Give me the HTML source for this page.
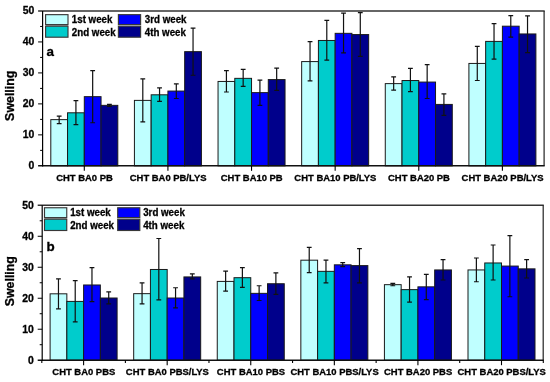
<!DOCTYPE html>
<html><head><meta charset="utf-8"><title>Swelling</title>
<style>html,body{margin:0;padding:0;background:#fff}svg{display:block}text{stroke:#000;stroke-width:.3px}</style></head>
<body>
<svg width="550" height="382" viewBox="0 0 550 382" font-family="'Liberation Sans', Arial, sans-serif" font-weight="bold" fill="#000">
<rect width="550" height="382" fill="#fff"/>
<rect x="50.80" y="119.63" width="16.75" height="46.22" fill="#BFFFFF" stroke="#1a1a1a" stroke-width="1"/>
<rect x="67.55" y="112.80" width="16.75" height="53.05" fill="#00CCCC" stroke="#1a1a1a" stroke-width="1"/>
<rect x="84.30" y="96.66" width="16.75" height="69.19" fill="#0000FF" stroke="#1a1a1a" stroke-width="1"/>
<rect x="101.05" y="105.35" width="16.75" height="60.50" fill="#00008B" stroke="#1a1a1a" stroke-width="1"/>
<path d="M59.17 116.22V123.67M56.77 116.22h4.8M56.77 123.67h4.8" stroke="#111" stroke-width="1.2" fill="none"/>
<path d="M75.92 100.70V124.60M73.52 100.70h4.8M73.52 124.60h4.8" stroke="#111" stroke-width="1.2" fill="none"/>
<path d="M92.67 70.58V122.74M90.27 70.58h4.8M90.27 122.74h4.8" stroke="#111" stroke-width="1.2" fill="none"/>
<path d="M109.42 104.42V106.29M107.02 104.42h4.8M107.02 106.29h4.8" stroke="#111" stroke-width="1.2" fill="none"/>
<rect x="134.42" y="100.39" width="16.75" height="65.46" fill="#BFFFFF" stroke="#1a1a1a" stroke-width="1"/>
<rect x="151.17" y="94.80" width="16.75" height="71.05" fill="#00CCCC" stroke="#1a1a1a" stroke-width="1"/>
<rect x="167.92" y="91.07" width="16.75" height="74.78" fill="#0000FF" stroke="#1a1a1a" stroke-width="1"/>
<rect x="184.67" y="51.65" width="16.75" height="114.20" fill="#00008B" stroke="#1a1a1a" stroke-width="1"/>
<path d="M142.80 78.97V121.81M140.40 78.97h4.8M140.40 121.81h4.8" stroke="#111" stroke-width="1.2" fill="none"/>
<path d="M159.55 87.97V101.32M157.15 87.97h4.8M157.15 101.32h4.8" stroke="#111" stroke-width="1.2" fill="none"/>
<path d="M176.30 83.93V98.52M173.90 83.93h4.8M173.90 98.52h4.8" stroke="#111" stroke-width="1.2" fill="none"/>
<path d="M193.05 28.05V75.24M190.65 28.05h4.8M190.65 75.24h4.8" stroke="#111" stroke-width="1.2" fill="none"/>
<rect x="218.04" y="81.45" width="16.75" height="84.40" fill="#BFFFFF" stroke="#1a1a1a" stroke-width="1"/>
<rect x="234.79" y="78.35" width="16.75" height="87.50" fill="#00CCCC" stroke="#1a1a1a" stroke-width="1"/>
<rect x="251.54" y="92.63" width="16.75" height="73.22" fill="#0000FF" stroke="#1a1a1a" stroke-width="1"/>
<rect x="268.29" y="79.59" width="16.75" height="86.26" fill="#00008B" stroke="#1a1a1a" stroke-width="1"/>
<path d="M226.42 70.58V92.00M224.02 70.58h4.8M224.02 92.00h4.8" stroke="#111" stroke-width="1.2" fill="none"/>
<path d="M243.17 69.34V86.42M240.77 69.34h4.8M240.77 86.42h4.8" stroke="#111" stroke-width="1.2" fill="none"/>
<path d="M259.92 80.21V105.35M257.52 80.21h4.8M257.52 105.35h4.8" stroke="#111" stroke-width="1.2" fill="none"/>
<path d="M276.67 68.10V90.45M274.27 68.10h4.8M274.27 90.45h4.8" stroke="#111" stroke-width="1.2" fill="none"/>
<rect x="301.66" y="61.58" width="16.75" height="104.27" fill="#BFFFFF" stroke="#1a1a1a" stroke-width="1"/>
<rect x="318.41" y="40.47" width="16.75" height="125.38" fill="#00CCCC" stroke="#1a1a1a" stroke-width="1"/>
<rect x="335.16" y="33.33" width="16.75" height="132.52" fill="#0000FF" stroke="#1a1a1a" stroke-width="1"/>
<rect x="351.91" y="34.57" width="16.75" height="131.28" fill="#00008B" stroke="#1a1a1a" stroke-width="1"/>
<path d="M310.04 41.71V80.83M307.64 41.71h4.8M307.64 80.83h4.8" stroke="#111" stroke-width="1.2" fill="none"/>
<path d="M326.79 20.29V60.03M324.39 20.29h4.8M324.39 60.03h4.8" stroke="#111" stroke-width="1.2" fill="none"/>
<path d="M343.54 13.15V52.89M341.14 13.15h4.8M341.14 52.89h4.8" stroke="#111" stroke-width="1.2" fill="none"/>
<path d="M360.29 12.53V56.30M357.89 12.53h4.8M357.89 56.30h4.8" stroke="#111" stroke-width="1.2" fill="none"/>
<rect x="385.28" y="83.62" width="16.75" height="82.23" fill="#BFFFFF" stroke="#1a1a1a" stroke-width="1"/>
<rect x="402.03" y="80.52" width="16.75" height="85.33" fill="#00CCCC" stroke="#1a1a1a" stroke-width="1"/>
<rect x="418.78" y="82.07" width="16.75" height="83.78" fill="#0000FF" stroke="#1a1a1a" stroke-width="1"/>
<rect x="435.53" y="104.42" width="16.75" height="61.43" fill="#00008B" stroke="#1a1a1a" stroke-width="1"/>
<path d="M393.66 76.79V90.14M391.26 76.79h4.8M391.26 90.14h4.8" stroke="#111" stroke-width="1.2" fill="none"/>
<path d="M410.41 68.41V91.69M408.01 68.41h4.8M408.01 91.69h4.8" stroke="#111" stroke-width="1.2" fill="none"/>
<path d="M427.16 64.69V98.52M424.76 64.69h4.8M424.76 98.52h4.8" stroke="#111" stroke-width="1.2" fill="none"/>
<path d="M443.91 93.87V115.29M441.51 93.87h4.8M441.51 115.29h4.8" stroke="#111" stroke-width="1.2" fill="none"/>
<rect x="468.90" y="63.44" width="16.75" height="102.41" fill="#BFFFFF" stroke="#1a1a1a" stroke-width="1"/>
<rect x="485.65" y="41.40" width="16.75" height="124.45" fill="#00CCCC" stroke="#1a1a1a" stroke-width="1"/>
<rect x="502.40" y="26.19" width="16.75" height="139.66" fill="#0000FF" stroke="#1a1a1a" stroke-width="1"/>
<rect x="519.15" y="33.95" width="16.75" height="131.90" fill="#00008B" stroke="#1a1a1a" stroke-width="1"/>
<path d="M477.28 46.37V80.52M474.88 46.37h4.8M474.88 80.52h4.8" stroke="#111" stroke-width="1.2" fill="none"/>
<path d="M494.03 23.71V59.10M491.63 23.71h4.8M491.63 59.10h4.8" stroke="#111" stroke-width="1.2" fill="none"/>
<path d="M510.78 15.64V37.06M508.38 15.64h4.8M508.38 37.06h4.8" stroke="#111" stroke-width="1.2" fill="none"/>
<path d="M527.53 15.95V52.58M525.13 15.95h4.8M525.13 52.58h4.8" stroke="#111" stroke-width="1.2" fill="none"/>
<path d="M38.10 10.95H544.70" stroke="#333" stroke-width="1.5" fill="none"/>
<path d="M544.10 10.95V165.85" stroke="#222" stroke-width="1.2" fill="none"/>
<path d="M38.10 165.85H544.70" stroke="#111" stroke-width="1.5" fill="none"/>
<path d="M42.60 10.95V166.55" stroke="#000" stroke-width="1.2" fill="none"/>
<text x="34.30" y="169.15" font-size="10.4" text-anchor="end">0</text>
<path d="M40.10 150.36H42.60" stroke="#000" stroke-width="1"/>
<path d="M38.10 134.87H42.60" stroke="#000" stroke-width="1"/>
<text x="34.30" y="138.17" font-size="10.4" text-anchor="end">10</text>
<path d="M40.10 119.38H42.60" stroke="#000" stroke-width="1"/>
<path d="M38.10 103.89H42.60" stroke="#000" stroke-width="1"/>
<text x="34.30" y="107.19" font-size="10.4" text-anchor="end">20</text>
<path d="M40.10 88.40H42.60" stroke="#000" stroke-width="1"/>
<path d="M38.10 72.91H42.60" stroke="#000" stroke-width="1"/>
<text x="34.30" y="76.21" font-size="10.4" text-anchor="end">30</text>
<path d="M40.10 57.42H42.60" stroke="#000" stroke-width="1"/>
<path d="M38.10 41.93H42.60" stroke="#000" stroke-width="1"/>
<text x="34.30" y="45.23" font-size="10.4" text-anchor="end">40</text>
<path d="M40.10 26.44H42.60" stroke="#000" stroke-width="1"/>
<text x="34.30" y="14.25" font-size="10.4" text-anchor="end">50</text>
<path d="M84.30 165.85V170.85" stroke="#000" stroke-width="1.1"/>
<text transform="translate(84.50 181.10) scale(1 1)" font-size="9.45" text-anchor="middle">CHT BA0 PB</text>
<path d="M167.92 165.85V170.85" stroke="#000" stroke-width="1.1"/>
<text transform="translate(168.12 181.10) scale(1 1)" font-size="9.45" text-anchor="middle">CHT BA0 PB/LYS</text>
<path d="M251.54 165.85V170.85" stroke="#000" stroke-width="1.1"/>
<text transform="translate(251.74 181.10) scale(1 1)" font-size="9.45" text-anchor="middle">CHT BA10 PB</text>
<path d="M335.16 165.85V170.85" stroke="#000" stroke-width="1.1"/>
<text transform="translate(335.36 181.10) scale(1 1)" font-size="9.45" text-anchor="middle">CHT BA10 PB/LYS</text>
<path d="M418.78 165.85V170.85" stroke="#000" stroke-width="1.1"/>
<text transform="translate(418.98 181.10) scale(1 1)" font-size="9.45" text-anchor="middle">CHT BA20 PB</text>
<path d="M502.40 165.85V170.85" stroke="#000" stroke-width="1.1"/>
<text transform="translate(502.60 181.10) scale(1 1)" font-size="9.45" text-anchor="middle">CHT BA20 PB/LYS</text>
<text transform="translate(14.2 95.75) rotate(-90)" font-size="12.4" text-anchor="middle">Swelling</text>
<text x="46.5" y="56.15" font-size="13.4">a</text>
<path d="M45.60 25.40h22.40" stroke="#8a8a8a" stroke-width="0.8"/>
<rect x="45.60" y="14.65" width="22.40" height="9.95" fill="#BFFFFF" stroke="#383838" stroke-width="1.15"/>
<text transform="translate(71.80 23.15) scale(0.975 1)" font-size="10.0" text-anchor="start">1st week</text>
<rect x="45.60" y="26.20" width="22.40" height="11.00" fill="#00CCCC" stroke="#383838" stroke-width="1.15"/>
<text transform="translate(71.80 35.65) scale(0.975 1)" font-size="10.0" text-anchor="start">2nd week</text>
<rect x="118.40" y="14.65" width="22.20" height="9.95" fill="#0000FF" stroke="#383838" stroke-width="1.15"/>
<text transform="translate(144.80 23.15) scale(0.975 1)" font-size="10.0" text-anchor="start">3rd week</text>
<rect x="118.40" y="26.20" width="22.20" height="11.00" fill="#00008B" stroke="#383838" stroke-width="1.15"/>
<text transform="translate(144.80 35.65) scale(0.975 1)" font-size="10.0" text-anchor="start">4th week</text>
<rect x="50.10" y="293.81" width="16.75" height="66.38" fill="#BFFFFF" stroke="#1a1a1a" stroke-width="1"/>
<rect x="66.85" y="301.41" width="16.75" height="58.79" fill="#00CCCC" stroke="#1a1a1a" stroke-width="1"/>
<rect x="83.60" y="284.98" width="16.75" height="75.22" fill="#0000FF" stroke="#1a1a1a" stroke-width="1"/>
<rect x="100.35" y="298.00" width="16.75" height="62.20" fill="#00008B" stroke="#1a1a1a" stroke-width="1"/>
<path d="M58.47 278.78V308.85M56.07 278.78h4.8M56.07 308.85h4.8" stroke="#111" stroke-width="1.2" fill="none"/>
<path d="M75.22 280.64V321.87M72.82 280.64h4.8M72.82 321.87h4.8" stroke="#111" stroke-width="1.2" fill="none"/>
<path d="M91.97 267.62V301.72M89.57 267.62h4.8M89.57 301.72h4.8" stroke="#111" stroke-width="1.2" fill="none"/>
<path d="M108.72 291.80V303.89M106.32 291.80h4.8M106.32 303.89h4.8" stroke="#111" stroke-width="1.2" fill="none"/>
<rect x="133.68" y="293.66" width="16.75" height="66.54" fill="#BFFFFF" stroke="#1a1a1a" stroke-width="1"/>
<rect x="150.43" y="269.48" width="16.75" height="90.72" fill="#00CCCC" stroke="#1a1a1a" stroke-width="1"/>
<rect x="167.18" y="298.00" width="16.75" height="62.20" fill="#0000FF" stroke="#1a1a1a" stroke-width="1"/>
<rect x="183.93" y="276.92" width="16.75" height="83.28" fill="#00008B" stroke="#1a1a1a" stroke-width="1"/>
<path d="M142.06 282.81V303.89M139.66 282.81h4.8M139.66 303.89h4.8" stroke="#111" stroke-width="1.2" fill="none"/>
<path d="M158.81 238.48V299.86M156.41 238.48h4.8M156.41 299.86h4.8" stroke="#111" stroke-width="1.2" fill="none"/>
<path d="M175.56 287.77V307.92M173.16 287.77h4.8M173.16 307.92h4.8" stroke="#111" stroke-width="1.2" fill="none"/>
<path d="M192.31 273.82V278.78M189.91 273.82h4.8M189.91 278.78h4.8" stroke="#111" stroke-width="1.2" fill="none"/>
<rect x="217.26" y="281.41" width="16.75" height="78.79" fill="#BFFFFF" stroke="#1a1a1a" stroke-width="1"/>
<rect x="234.01" y="277.69" width="16.75" height="82.50" fill="#00CCCC" stroke="#1a1a1a" stroke-width="1"/>
<rect x="250.76" y="293.35" width="16.75" height="66.85" fill="#0000FF" stroke="#1a1a1a" stroke-width="1"/>
<rect x="267.51" y="283.74" width="16.75" height="76.46" fill="#00008B" stroke="#1a1a1a" stroke-width="1"/>
<path d="M225.63 271.03V291.18M223.23 271.03h4.8M223.23 291.18h4.8" stroke="#111" stroke-width="1.2" fill="none"/>
<path d="M242.38 267.62V287.46M239.98 267.62h4.8M239.98 287.46h4.8" stroke="#111" stroke-width="1.2" fill="none"/>
<path d="M259.13 285.75V300.48M256.74 285.75h4.8M256.74 300.48h4.8" stroke="#111" stroke-width="1.2" fill="none"/>
<path d="M275.88 272.89V294.28M273.49 272.89h4.8M273.49 294.28h4.8" stroke="#111" stroke-width="1.2" fill="none"/>
<rect x="300.84" y="260.18" width="16.75" height="100.02" fill="#BFFFFF" stroke="#1a1a1a" stroke-width="1"/>
<rect x="317.59" y="271.34" width="16.75" height="88.86" fill="#00CCCC" stroke="#1a1a1a" stroke-width="1"/>
<rect x="334.34" y="264.83" width="16.75" height="95.37" fill="#0000FF" stroke="#1a1a1a" stroke-width="1"/>
<rect x="351.09" y="265.61" width="16.75" height="94.59" fill="#00008B" stroke="#1a1a1a" stroke-width="1"/>
<path d="M309.22 247.47V272.58M306.82 247.47h4.8M306.82 272.58h4.8" stroke="#111" stroke-width="1.2" fill="none"/>
<path d="M325.97 260.18V282.81M323.57 260.18h4.8M323.57 282.81h4.8" stroke="#111" stroke-width="1.2" fill="none"/>
<path d="M342.72 262.66V266.69M340.32 262.66h4.8M340.32 266.69h4.8" stroke="#111" stroke-width="1.2" fill="none"/>
<path d="M359.47 248.71V282.81M357.07 248.71h4.8M357.07 282.81h4.8" stroke="#111" stroke-width="1.2" fill="none"/>
<rect x="384.42" y="284.67" width="16.75" height="75.53" fill="#BFFFFF" stroke="#1a1a1a" stroke-width="1"/>
<rect x="401.17" y="289.63" width="16.75" height="70.57" fill="#00CCCC" stroke="#1a1a1a" stroke-width="1"/>
<rect x="417.92" y="286.84" width="16.75" height="73.36" fill="#0000FF" stroke="#1a1a1a" stroke-width="1"/>
<rect x="434.67" y="269.94" width="16.75" height="90.25" fill="#00008B" stroke="#1a1a1a" stroke-width="1"/>
<path d="M392.79 283.43V285.75M390.39 283.43h4.8M390.39 285.75h4.8" stroke="#111" stroke-width="1.2" fill="none"/>
<path d="M409.54 276.92V302.03M407.14 276.92h4.8M407.14 302.03h4.8" stroke="#111" stroke-width="1.2" fill="none"/>
<path d="M426.29 274.44V299.55M423.89 274.44h4.8M423.89 299.55h4.8" stroke="#111" stroke-width="1.2" fill="none"/>
<path d="M443.04 259.56V280.02M440.64 259.56h4.8M440.64 280.02h4.8" stroke="#111" stroke-width="1.2" fill="none"/>
<rect x="468.00" y="269.94" width="16.75" height="90.25" fill="#BFFFFF" stroke="#1a1a1a" stroke-width="1"/>
<rect x="484.75" y="262.97" width="16.75" height="97.23" fill="#00CCCC" stroke="#1a1a1a" stroke-width="1"/>
<rect x="501.50" y="266.07" width="16.75" height="94.13" fill="#0000FF" stroke="#1a1a1a" stroke-width="1"/>
<rect x="518.25" y="268.86" width="16.75" height="91.34" fill="#00008B" stroke="#1a1a1a" stroke-width="1"/>
<path d="M476.38 258.01V281.73M473.98 258.01h4.8M473.98 281.73h4.8" stroke="#111" stroke-width="1.2" fill="none"/>
<path d="M493.12 244.99V280.02M490.73 244.99h4.8M490.73 280.02h4.8" stroke="#111" stroke-width="1.2" fill="none"/>
<path d="M509.88 235.69V296.76M507.48 235.69h4.8M507.48 296.76h4.8" stroke="#111" stroke-width="1.2" fill="none"/>
<path d="M526.62 259.56V278.00M524.23 259.56h4.8M524.23 278.00h4.8" stroke="#111" stroke-width="1.2" fill="none"/>
<path d="M37.70 205.30H543.80" stroke="#333" stroke-width="1.5" fill="none"/>
<path d="M543.20 205.30V360.20" stroke="#222" stroke-width="1.2" fill="none"/>
<path d="M37.70 360.20H543.80" stroke="#111" stroke-width="1.5" fill="none"/>
<path d="M42.20 205.30V360.90" stroke="#000" stroke-width="1.2" fill="none"/>
<text x="33.90" y="363.50" font-size="10.4" text-anchor="end">0</text>
<path d="M39.70 344.71H42.20" stroke="#000" stroke-width="1"/>
<path d="M37.70 329.22H42.20" stroke="#000" stroke-width="1"/>
<text x="33.90" y="332.52" font-size="10.4" text-anchor="end">10</text>
<path d="M39.70 313.73H42.20" stroke="#000" stroke-width="1"/>
<path d="M37.70 298.24H42.20" stroke="#000" stroke-width="1"/>
<text x="33.90" y="301.54" font-size="10.4" text-anchor="end">20</text>
<path d="M39.70 282.75H42.20" stroke="#000" stroke-width="1"/>
<path d="M37.70 267.26H42.20" stroke="#000" stroke-width="1"/>
<text x="33.90" y="270.56" font-size="10.4" text-anchor="end">30</text>
<path d="M39.70 251.77H42.20" stroke="#000" stroke-width="1"/>
<path d="M37.70 236.28H42.20" stroke="#000" stroke-width="1"/>
<text x="33.90" y="239.58" font-size="10.4" text-anchor="end">40</text>
<path d="M39.70 220.79H42.20" stroke="#000" stroke-width="1"/>
<text x="33.90" y="208.60" font-size="10.4" text-anchor="end">50</text>
<path d="M83.60 360.20V365.20" stroke="#000" stroke-width="1.1"/>
<path d="M41.81 360.20V363.00" stroke="#000" stroke-width="1.1"/>
<path d="M125.39 360.20V363.00" stroke="#000" stroke-width="1.1"/>
<text transform="translate(83.80 375.15) scale(1 1)" font-size="9.45" text-anchor="middle">CHT BA0 PBS</text>
<path d="M167.18 360.20V365.20" stroke="#000" stroke-width="1.1"/>
<path d="M208.97 360.20V363.00" stroke="#000" stroke-width="1.1"/>
<text transform="translate(167.38 375.15) scale(1 1)" font-size="9.45" text-anchor="middle">CHT BA0 PBS/LYS</text>
<path d="M250.76 360.20V365.20" stroke="#000" stroke-width="1.1"/>
<path d="M292.55 360.20V363.00" stroke="#000" stroke-width="1.1"/>
<text transform="translate(250.96 375.15) scale(1 1)" font-size="9.45" text-anchor="middle">CHT BA10 PBS</text>
<path d="M334.34 360.20V365.20" stroke="#000" stroke-width="1.1"/>
<path d="M376.13 360.20V363.00" stroke="#000" stroke-width="1.1"/>
<text transform="translate(334.54 375.15) scale(1 1)" font-size="9.45" text-anchor="middle">CHT BA10 PBS/LYS</text>
<path d="M417.92 360.20V365.20" stroke="#000" stroke-width="1.1"/>
<path d="M459.71 360.20V363.00" stroke="#000" stroke-width="1.1"/>
<text transform="translate(418.12 375.15) scale(1 1)" font-size="9.45" text-anchor="middle">CHT BA20 PBS</text>
<path d="M501.50 360.20V365.20" stroke="#000" stroke-width="1.1"/>
<path d="M543.29 360.20V363.00" stroke="#000" stroke-width="1.1"/>
<text transform="translate(501.70 375.15) scale(1 1)" font-size="9.45" text-anchor="middle">CHT BA20 PBS/LYS</text>
<text transform="translate(14.2 281.20) rotate(-90)" font-size="12.4" text-anchor="middle">Swelling</text>
<text x="46.5" y="250.50" font-size="13.4">b</text>
<path d="M44.50 218.40h22.25" stroke="#8a8a8a" stroke-width="0.8"/>
<rect x="44.50" y="207.75" width="22.25" height="9.85" fill="#BFFFFF" stroke="#383838" stroke-width="1.15"/>
<text transform="translate(70.20 215.70) scale(0.975 1)" font-size="10.0" text-anchor="start">1st week</text>
<rect x="44.50" y="219.20" width="22.25" height="11.30" fill="#00CCCC" stroke="#383838" stroke-width="1.15"/>
<text transform="translate(70.20 228.55) scale(0.975 1)" font-size="10.0" text-anchor="start">2nd week</text>
<rect x="117.70" y="207.75" width="22.10" height="9.85" fill="#0000FF" stroke="#383838" stroke-width="1.15"/>
<text transform="translate(143.20 215.70) scale(0.975 1)" font-size="10.0" text-anchor="start">3rd week</text>
<rect x="117.70" y="219.20" width="22.10" height="11.30" fill="#00008B" stroke="#383838" stroke-width="1.15"/>
<text transform="translate(143.20 228.55) scale(0.975 1)" font-size="10.0" text-anchor="start">4th week</text>
</svg>
</body></html>
